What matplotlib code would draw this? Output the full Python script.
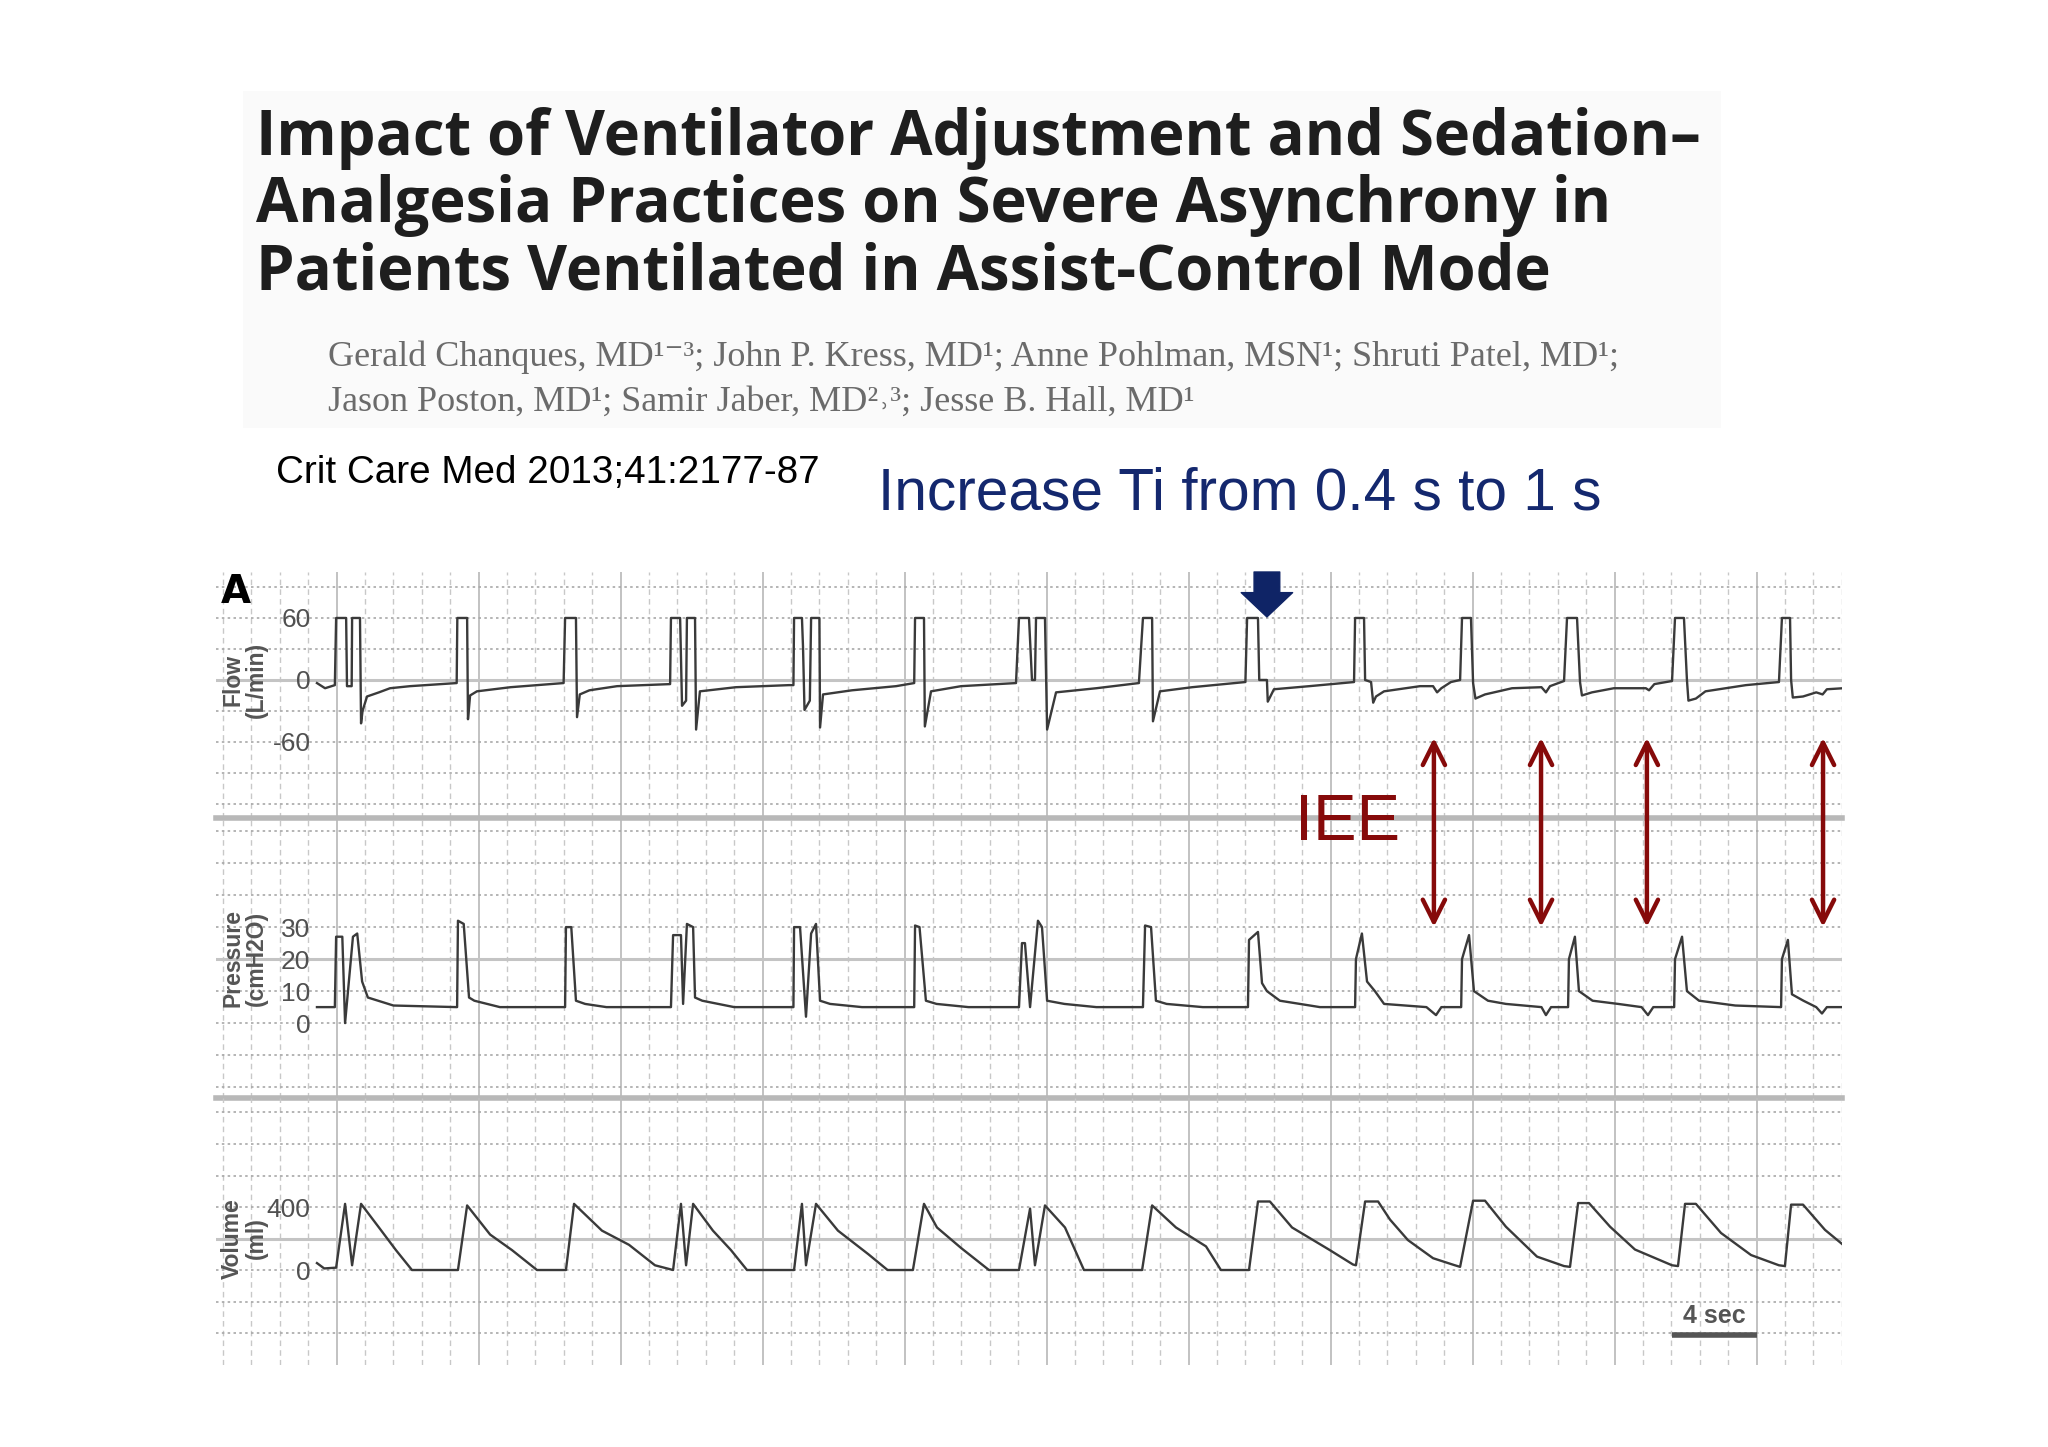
import numpy as np
import matplotlib
matplotlib.use('Agg')
from matplotlib import pyplot as plt
from matplotlib.patches import Rectangle

# waveform vertices: (time s, value)
flow_pts = [(4.41, -3), (4.79, -8), (5.25, -5),
            (5.31, 60), (5.78, 60), (5.82, -6), (6.04, -6), (6.06, 60), (6.43, 60), (6.48, -42), (6.55, -30),
            (6.76, -16), (7.32, -12), (7.84, -8), (8.78, -6), (10.97, -3),
            (11.0, 60), (11.46, 60), (11.50, -38), (11.6, -15), (11.92, -11), (13.5, -7), (15.99, -3),
            (16.06, 60), (16.57, 60), (16.62, -36), (16.75, -14), (17.2, -10), (18.5, -6), (20.99, -4),
            (21.03, 60), (21.46, 60), (21.55, -25), (21.74, -20), (21.78, 60), (22.16, 60), (22.21, -48),
            (22.39, -11), (24.08, -7), (26.57, -5), (26.78, -5),
            (26.81, 60), (27.18, 60), (27.23, 32), (27.3, -29), (27.55, -20), (27.61, 60), (28.0, 60),
            (28.03, -46), (28.17, -14), (29.53, -10), (31.6, -6), (32.45, -3),
            (32.49, 60), (32.91, 60), (32.95, -45), (33.24, -11), (34.65, -6), (37.23, -3),
            (37.37, 60), (37.84, 60), (37.98, 0), (38.12, 0), (38.17, 60), (38.59, 60), (38.69, -48),
            (39.11, -12), (41.0, -8), (43.0, -3),
            (43.19, 60), (43.62, 60), (43.66, -40), (43.99, -11), (45.5, -7), (48.0, -2),
            (48.08, 60), (48.59, 60), (48.65, 0), (49.01, 0), (49.05, -21), (49.34, -9), (51.0, -6), (53.1, -2),
            (53.15, 60), (53.57, 60), (53.62, 0), (53.9, -2), (54.0, -22), (54.13, -16), (54.51, -11),
            (56.2, -6), (56.81, -6), (57.0, -12), (57.2, -8), (57.65, -2), (58.08, 0),
            (58.17, 60), (58.59, 60), (58.69, -3), (58.8, -18), (59.25, -14), (60.52, -8), (61.9, -7),
            (62.11, -12), (62.3, -6), (62.96, -1),
            (63.10, 60), (63.57, 60), (63.71, -2), (63.8, -15), (64.27, -12), (65.3, -8), (66.8, -8),
            (66.95, -10), (67.2, -4), (68.03, -1),
            (68.17, 60), (68.59, 60), (68.73, 0), (68.8, -20), (69.15, -18), (69.6, -11), (71.5, -5), (73.05, -2),
            (73.19, 60), (73.57, 60), (73.62, 0), (73.7, -17), (74.18, -16), (74.8, -12), (75.1, -14),
            (75.3, -9), (76.06, -8)]

pres_pts = [(4.41, 5), (5.25, 5),
            (5.31, 27), (5.6, 27), (5.73, 0), (6.10, 27), (6.3, 28), (6.53, 13), (6.8, 8), (8.0, 5.5), (10.99, 5),
            (11.03, 32), (11.3, 31), (11.55, 8), (11.8, 7), (13.0, 5), (16.06, 5),
            (16.10, 30), (16.35, 30), (16.57, 7), (17.0, 6), (18.0, 5), (21.03, 5),
            (21.13, 27.5), (21.5, 27.5), (21.6, 6), (21.78, 31), (22.07, 30), (22.16, 8), (22.5, 7), (24.0, 5),
            (26.78, 5),
            (26.81, 30), (27.09, 30), (27.37, 2), (27.61, 28), (27.84, 31), (28.03, 7), (28.5, 6), (30.0, 5),
            (32.45, 5),
            (32.49, 30.5), (32.7, 30), (33.0, 7), (33.5, 6), (35.0, 5), (37.37, 5),
            (37.51, 25), (37.65, 25), (37.89, 5), (38.26, 32), (38.45, 30), (38.69, 7), (39.5, 6), (41.0, 5),
            (43.19, 5),
            (43.29, 30.5), (43.57, 30), (43.80, 7), (44.3, 6), (46.0, 5), (48.12, 5),
            (48.17, 26), (48.59, 28.5), (48.78, 12.5), (49.01, 10), (49.62, 7), (51.5, 5), (53.15, 5),
            (53.19, 20), (53.47, 28), (53.71, 13), (54.08, 10), (54.51, 6), (56.5, 5), (56.95, 2.5), (57.2, 5),
            (58.13, 5),
            (58.17, 20), (58.50, 27.5), (58.73, 10), (59.39, 7), (60.23, 6), (61.9, 5), (62.11, 2.5), (62.35, 5),
            (63.15, 5),
            (63.19, 20), (63.47, 27), (63.66, 10), (64.3, 7), (65.5, 6), (66.6, 5), (66.9, 2.5), (67.15, 5),
            (68.13, 5),
            (68.17, 20), (68.50, 27), (68.73, 10), (69.3, 7), (71.0, 5.5), (73.15, 5),
            (73.19, 20), (73.47, 26), (73.66, 9), (74.2, 7), (74.8, 5), (75.07, 3), (75.3, 5), (76.06, 5)]

vol_pts = [(4.41, 44), (4.75, 10), (5.31, 15),
           (5.73, 420), (6.06, 30), (6.48, 420), (7.32, 270), (8.12, 126), (8.87, 0), (11.03, 0),
           (11.46, 410), (12.54, 225), (13.57, 126), (14.74, 0), (16.10, 0),
           (16.48, 420), (17.79, 250), (19.06, 160), (20.28, 30), (21.13, 0),
           (21.50, 420), (21.74, 30), (22.07, 420), (23.0, 250), (23.85, 126), (24.60, 0), (26.81, 0),
           (27.18, 420), (27.37, 30), (27.84, 420), (28.87, 250), (30.3, 100), (31.2, 0), (32.39, 0),
           (32.91, 420), (33.52, 270), (34.65, 140), (35.96, 0), (37.37, 0),
           (37.89, 390), (38.12, 30), (38.59, 410), (39.53, 270), (40.42, 0), (43.15, 0),
           (43.62, 410), (44.74, 270), (46.15, 150), (46.85, 0), (48.17, 0),
           (48.59, 435), (49.15, 435), (50.19, 270), (51.92, 130), (53.05, 35), (53.19, 30),
           (53.62, 435), (54.23, 435), (54.79, 320), (55.63, 190), (56.81, 75), (57.79, 32), (58.08, 20),
           (58.69, 440), (59.25, 440), (60.23, 275), (61.69, 85), (62.96, 25), (63.24, 20),
           (63.62, 425), (64.13, 425), (65.12, 275), (66.29, 130), (68.03, 30), (68.31, 25),
           (68.64, 420), (69.15, 420), (70.33, 235), (71.74, 95), (73.05, 30), (73.33, 25),
           (73.62, 415), (74.18, 415), (75.21, 255), (76.06, 160)]

flow_ticks = [60, 0, -60]
pres_ticks = [30, 20, 10, 0]
vol_ticks = [400, 0]

iee_times = [56.85, 61.88, 66.85, 75.12]   # ineffective expiratory efforts
change_time = 49.01                          # Ti increased here
scale_bar = (68.03, 72.03)                   # 4 sec

title_lines = ["Impact of Ventilator Adjustment and Sedation\u2013",
               "Analgesia Practices on Severe Asynchrony in",
               "Patients Ventilated in Assist-Control Mode"]
author_lines = ["Gerald Chanques, MD\u00b9\u207b\u00b3; John P. Kress, MD\u00b9; Anne Pohlman, MSN\u00b9; Shruti Patel, MD\u00b9;",
                "Jason Poston, MD\u00b9; Samir Jaber, MD\u00b2\u02d2\u00b3; Jesse B. Hall, MD\u00b9"]

W, H = 2048, 1447
fig = plt.figure(figsize=(W / 100, H / 100), dpi=100)
fig.patch.set_facecolor('white')

def fx(x):
    return x / W

def fy(y):
    return 1 - y / H

# faint paper behind the article header
fig.add_artist(Rectangle((fx(243), fy(428)), fx(1721) - fx(243), fy(91) - fy(428),
                         transform=fig.transFigure, facecolor='#fafafa', edgecolor='none', zorder=0))

ys = [155, 222, 289]
for line, y in zip(title_lines, ys):
    fig.text(fx(256), fy(y), line, fontsize=44.3, fontweight='bold', family=['Open Sans', 'DejaVu Sans'],
             color='#1e1e1e', va='baseline', ha='left')

for line, y in zip(author_lines, [366, 411]):
    fig.text(fx(328), fy(y), line, fontsize=26, family=['Liberation Serif', 'DejaVu Serif'],
             color='#6b6b6b', va='baseline', ha='left')

fig.text(fx(276), fy(483), "Crit Care Med 2013;41:2177-87", fontsize=27.8,
         family='Liberation Sans', color='black', va='baseline')
fig.text(fx(878), fy(509), "Increase Ti from 0.4 s to 1 s", fontsize=42.2,
         family='Liberation Sans', color='#14286e', va='baseline')

x0, x1 = -0.33, 76.01
left, width = fx(216), 1626 / W
ax_f = fig.add_axes([left, fy(818), width, 246 / H])
ax_p = fig.add_axes([left, fy(1098), width, 280 / H])
ax_v = fig.add_axes([left, fy(1365), width, 267 / H])

narrow = ['Liberation Sans Narrow', 'Liberation Sans']
panels = [
    (ax_f, flow_pts, (-133.6, 104.5), np.arange(-120, 91, 30), 0, flow_ticks, "Flow\n(L/min)", 0.56),
    (ax_p, pres_pts, (-23.4, 64.1), np.arange(-20, 61, 10), 20, pres_ticks, "Pressure\n(cmH2O)", 0.50),
    (ax_v, vol_pts, (-603, 1092), np.arange(-400, 1001, 200), 200, vol_ticks, "Volume\n(ml)", 0.475),
]

for ax, pts, ylim, levels, solid, ticks, label, ly in panels:
    ax.set_facecolor('none')
    ax.set_xlim(x0, x1)
    ax.set_ylim(*ylim)
    for s in ax.spines.values():
        s.set_visible(False)
    ax.set_xticks([])
    ax.set_yticks(ticks)
    ax.set_yticklabels([str(t) for t in ticks], family=narrow, fontsize=19, color='#505050')
    ax.tick_params(axis='y', length=0, pad=-68)
    for k in range(58):
        if k % 5 == 4:
            ax.axvline(k * 4 / 3, color='#bdbdbd', lw=1.3, zorder=1)
        else:
            ax.axvline(k * 4 / 3, color='#c8c8c8', lw=1.0, ls=(0, (4, 3)), zorder=1)
    for lv in levels:
        if lv == solid:
            ax.axhline(lv, color='#c4c4c4', lw=2.2, zorder=1)
        else:
            ax.axhline(lv, color='#a8a8a8', lw=1.2, ls=(0, (1.5, 2)), zorder=1)
    t = [p[0] for p in pts]
    v = [p[1] for p in pts]
    ax.plot(t, v, color='#3a3a3a', lw=1.7, zorder=3)
    ax.text(0.0175, ly, label, transform=ax.transAxes, rotation=90, ha='center', va='center',
            fontsize=16.5, fontweight='bold', color='#555555', linespacing=1.05, family='Liberation Sans')

# thick separators between the strips
for ax in (ax_f, ax_p):
    ax.axhline(ax.get_ylim()[0], color='#b8b8b8', lw=4, clip_on=False, zorder=2)

ax_f.set_zorder(3)
ax_f.text(0.003, 0.92, "A", transform=ax_f.transAxes, fontsize=28, fontweight='bold',
          ha='left', va='center', color='black', family='DejaVu Sans')

# ventilator change marker
ax_f.annotate('', xy=(change_time, 61), xytext=(change_time, 104.5),
              arrowprops=dict(arrowstyle='simple,head_length=1.75,head_width=3.7,tail_width=1.85',
                              mutation_scale=10, color='#0f2466', shrinkA=0, shrinkB=0),
              annotation_clip=False)

for t in iee_times:
    ax_f.annotate('', xy=(t, -239), xytext=(t, -56),
                  arrowprops=dict(arrowstyle='<->,head_length=0.8,head_width=0.4', lw=3.2,
                                  mutation_scale=20, color='#860a0a', shrinkA=0, shrinkB=0),
                  annotation_clip=False)

fig.text(fx(1295), fy(840), "IEE", fontsize=47, family='Liberation Sans', color='#860a0a',
         va='baseline', ha='left')

ax_v.plot(scale_bar, [-413, -413], color='#555555', lw=4, solid_capstyle='butt', zorder=3)
ax_v.text(sum(scale_bar) / 2, -290, "4 sec", ha='center', va='center', fontsize=18,
          family=narrow, color='#555555', fontweight='bold')

fig.savefig('out.png', dpi=100)
